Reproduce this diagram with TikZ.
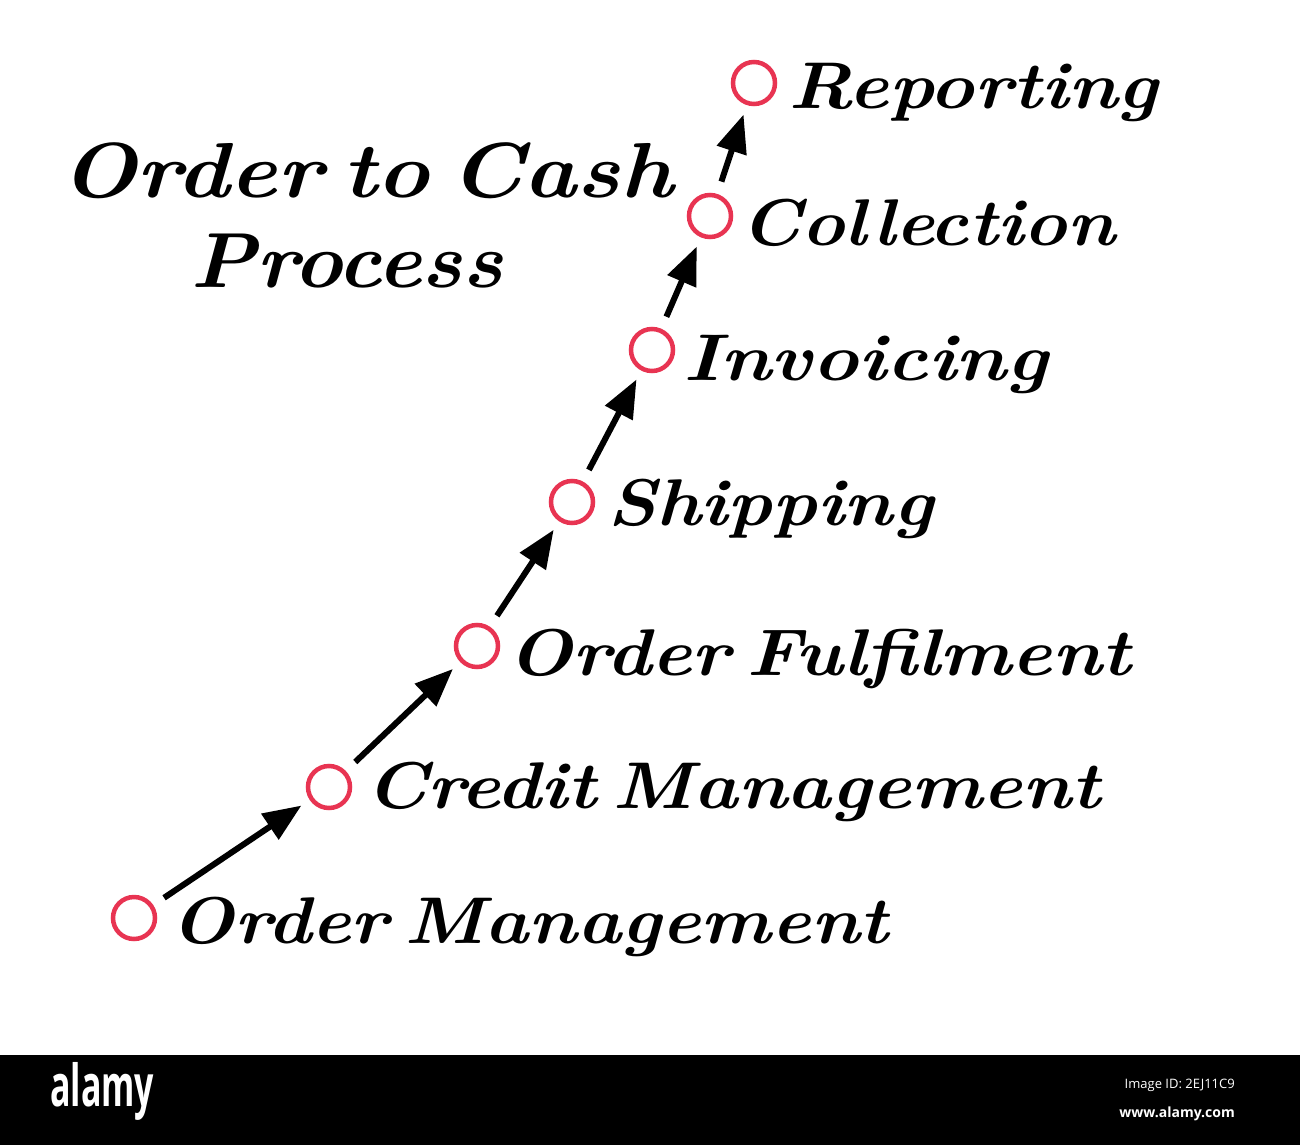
\documentclass[tikz,border=0pt]{standalone}
\usepackage{fontspec}
\usepackage{graphicx}
\usetikzlibrary{arrows.meta}
\newfontfamily\bandfont{Open Sans}
\definecolor{ringred}{RGB}{232,52,82}
\newcommand\fitto[2]{\resizebox{#1pt}{\height}{\spaceskip=.22em\relax #2}}
\tikzset{
  ring/.style={circle, draw=ringred, line width=4.5pt, minimum size=42pt, inner sep=0pt},
  lbl/.style={anchor=base west, inner sep=0pt, font=\fontsize{66}{72}\selectfont\bfseries\itshape},
  ttl/.style={anchor=base west, inner sep=0pt, font=\fontsize{78}{86}\selectfont\bfseries\itshape},
  flow/.style={line width=6pt, -{Triangle[length=38pt,width=30pt]}, shorten <=13pt, shorten >=10pt},
  bandtxt/.style={text=white, inner sep=0pt}
}
\begin{document}
\begin{tikzpicture}[x=1pt,y=-1pt]
\useasboundingbox (0,0) rectangle (1300,1145);
\fill[white] (0,0) rectangle (1300,1145);
% rings
\node[ring] (c1) at (134,918) {};
\node[ring] (c2) at (329,787) {};
\node[ring] (c3) at (477,646) {};
\node[ring] (c4) at (572,502) {};
\node[ring] (c5) at (652,350) {};
\node[ring] (c6) at (710,216) {};
\node[ring] (c7) at (754,83) {};
% labels
\node[lbl] (t1) at (170,943) {\fitto{718}{Order Management}};
\node[lbl] (t2) at (365,808) {\fitto{735}{Credit Management}};
\node[lbl] (t3) at (507,675) {\fitto{624}{Order Fulfilment}};
\node[lbl] (t4) at (607,525) {\fitto{326}{Shipping}};
\node[lbl] (t5) at (683,380) {\fitto{365}{Invoicing}};
\node[lbl] (t6) at (740,245) {\fitto{375}{Collection}};
\node[lbl] (t7) at (788,108) {\fitto{370}{Reporting}};
% title
\node[ttl] (h1) at (60,197) {\fitto{613}{Order to Cash}};
\node[ttl] (h2) at (190,287) {\fitto{313}{Process}};
% arrows
\draw[flow] (c1) -- (c2);
\draw[flow] (c2) -- (c3);
\draw[flow] (c3) -- (c4);
\draw[flow] (c4) -- (c5);
\draw[flow] (c5) -- (c6);
\draw[flow] (c6) -- (c7);
% band
\fill[black] (0,1055) rectangle (1300,1145);
\node[bandtxt, anchor=base west, font=\bandfont\bfseries\fontsize{58}{62}\selectfont] (al) at (50,1106) {\resizebox{104pt}{\height}{alamy}};
\node[bandtxt, anchor=base east, font=\bandfont\fontsize{13}{15}\selectfont] (id) at (1235,1088) {Image ID: 2EJ11C9};
\node[bandtxt, anchor=base east, font=\bandfont\bfseries\fontsize{14}{16}\selectfont] (ww) at (1235,1117) {www.alamy.com};
\end{tikzpicture}
\end{document}
